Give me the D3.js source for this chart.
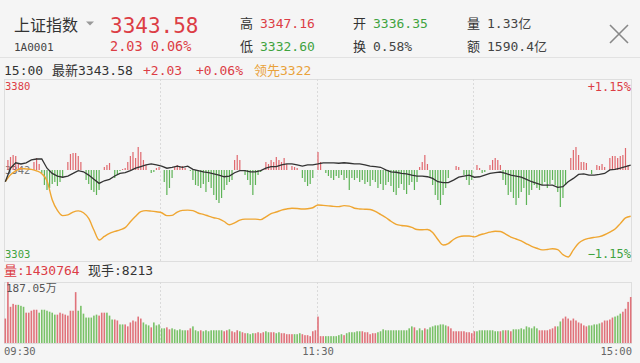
<!DOCTYPE html>
<html>
<head>
<meta charset="utf-8">
<script src="https://cdn.jsdelivr.net/npm/d3@7"></script>
<style>
  body { margin: 0; background: #f5f5f5; }
  svg { display: block; font-family: "DejaVu Sans Mono", "Noto Sans CJK SC", monospace; }
</style>
</head>
<body>
<svg id="chart" width="640" height="363"></svg>
<script>
"use strict";

// ---- quote header ----
var stockName = "上证指数";
var stockCode = "1A0001";
var lastPrice = 3343.58;
var prevClose = 3341.55;
var leadLast = 3322;
var quoteLabels = ["高", "低", "开", "换", "量", "额"];
var quoteValues = ["3347.16", "3332.60", "3336.35", "0.58%", "1.33亿", "1590.4亿"];
var quoteColors = ["up", "down", "down", "flat", "flat", "flat"];
var lastVol = 1430764, lastHand = 8213;

var timeLabels = ["09:30", "11:30", "15:00"];
var timeIdx = [0, 120, 240];
var gridIdx = [60, 120, 180];

// index price, one value every 2 minutes (09:30 .. 15:00)
var price2min = [
  3336.6,3342.3,3344.6,3344.1,3344.6,3345.8,3346.2,3346.2,3342.3,3340.1,
  3339.0,3338.5,3339.0,3340.1,3341.3,3340.8,3339.4,3337.6,3335.9,3337.0,
  3337.6,3339.0,3340.1,3340.4,3341.3,3342.3,3343.0,3343.7,3344.1,3343.7,
  3343.2,3342.3,3342.7,3343.2,3342.7,3343.2,3341.8,3341.3,3340.8,3340.4,
  3339.9,3339.4,3338.7,3339.0,3340.4,3341.3,3341.3,3340.8,3340.8,3341.3,
  3342.3,3343.0,3343.0,3343.7,3344.1,3344.1,3343.7,3343.2,3343.7,3343.7,
  3344.1,3344.6,3344.6,3344.6,3344.4,3344.6,3344.4,3344.1,3344.1,3343.7,
  3343.2,3343.0,3342.7,3341.6,3340.8,3340.6,3340.1,3339.9,3339.4,3339.0,
  3339.0,3338.7,3338.0,3336.6,3336.2,3336.2,3337.3,3338.5,3339.0,3339.4,
  3338.5,3338.7,3339.4,3340.1,3340.4,3340.7,3340.1,3339.4,3339.0,3338.5,
  3337.6,3336.6,3335.9,3335.2,3335.2,3335.2,3334.2,3334.5,3336.6,3338.0,
  3339.7,3339.9,3339.4,3339.4,3339.7,3340.1,3341.6,3341.8,3342.3,3343.0,
  3343.58
];

// 领先 (unweighted) line, one value every 2 minutes
var lead2min = [
  3336.6,3339.5,3341.2,3342.2,3342.0,3341.8,3341.2,3340.0,3337.0,3329.0,
  3324.5,3322.3,3322.6,3323.8,3324.3,3323.5,3321.1,3316.2,3312.0,3313.5,
  3314.8,3315.6,3316.3,3317.2,3319.7,3322.0,3324.0,3324.4,3324.2,3323.9,
  3323.5,3322.3,3322.4,3323.8,3324.5,3324.6,3324.4,3323.4,3322.8,3322.1,
  3321.4,3320.9,3319.8,3318.4,3319.2,3320.4,3320.8,3320.8,3320.8,3320.6,
  3321.8,3323.1,3323.8,3324.6,3325.1,3325.4,3325.3,3325.1,3325.2,3325.6,
  3326.8,3326.6,3326.4,3326.2,3326.1,3326.5,3326.3,3325.4,3325.1,3325.0,
  3324.9,3324.1,3322.8,3321.5,3319.9,3318.6,3318.1,3317.9,3317.3,3316.4,
  3316.3,3316.4,3315.2,3312.2,3309.9,3310.5,3312.2,3313.3,3313.7,3313.7,
  3313.3,3314.1,3314.7,3315.3,3315.7,3315.6,3314.5,3313.2,3312.4,3311.6,
  3310.4,3309.3,3308.5,3307.8,3308.0,3308.3,3307.9,3305.8,3304.8,3307.8,
  3310.6,3312.0,3312.7,3313.1,3313.4,3314.2,3315.3,3316.6,3318.9,3321.3,
  3322.0
];

// buy/sell strength bars, one per minute
var strength = [
  0,10,13,15,14,6,3,0,0,0,
  0,8,12,6,-3,-15,-20,-18,-14,-12,
  -16,-12,-8,0,8,16,17,17,14,8,
  0,-10,-14,-20,-22,-25,-20,0,3,5,
  7,0,-8,-5,-1,1,2,8,14,18,
  12,23,18,10,5,0,-3,-2,2,3,
  0,-12,-25,-18,-8,3,5,3,4,2,
  0,-1,-10,-15,-16,-18,-14,-22,-12,-18,
  -25,-30,-33,-28,-20,-15,-12,-10,10,15,
  10,0,-5,-10,-15,-25,-15,-5,-2,0,
  8,6,10,8,13,10,8,12,6,0,
  4,3,2,0,-8,-12,-16,-14,-8,0,
  18,8,0,-3,-6,-8,-10,-6,-8,-5,
  -10,-8,-20,-8,-10,-8,-12,-10,-14,-12,
  -16,-10,-12,-18,-14,-20,-15,-12,-16,-22,
  -25,-18,-14,-20,-24,-15,-12,-20,-12,3,
  8,15,6,-8,-15,-25,-30,-35,-25,-18,
  -8,0,0,4,3,0,-5,-10,-15,-10,
  0,5,2,-3,-2,0,5,10,12,10,
  5,-10,-15,-25,-22,-28,-35,-28,-22,-18,
  -35,-25,-20,-15,-18,-20,-15,-12,-18,-14,
  -10,-15,-22,-37,-28,-15,0,12,20,23,
  15,8,8,7,0,-4,0,5,4,6,
  3,0,12,14,14,12,14,15,22,5,
  0
];

// volume per minute, in 万
var volume = [
  75,187.05,111,120,117,117,114,111,93,93,
  99,102,102,93,102,102,99,96,93,87,
  87,93,90,87,84,99,99,156,99,114,
  90,78,78,78,84,87,84,93,93,93,
  84,72,72,69,57,57,57,51,63,69,
  66,81,75,63,57,54,48,63,54,57,
  45,45,48,42,45,42,39,42,39,39,
  39,45,51,39,36,39,36,39,36,39,
  39,39,39,
  39,36,39,42,36,33,39,36,33,30,
  30,27,30,30,33,30,33,36,33,33,
  33,30,33,30,30,27,27,27,27,27,
  30,27,24,24,21,36,39,
  81,
  21,21,21,21,21,21,21,24,27,24,
  30,33,33,33,36,36,36,33,33,27,
  30,30,33,36,42,39,39,39,39,39,
  39,39,39,39,45,51,48,39,45,39,
  45,42,48,51,54,
  54,57,57,54,51,45,36,36,36,36,
  36,33,33,30,36,36,39,39,39,39,
  39,39,36,36,36,39,39,39,36,42,
  42,42,45,42,51,48,45,51,45,39,
  39,39,39,42,45,51,51,66,75,81,
  75,69,75,69,63,60,54,51,54,54,
  57,57,60,63,69,69,72,78,81,84,
  90,96,105,126,141
];
var volMax = 187.05;

// r = up minute, g = down minute
var volColor =
  "rrrrr" + "ggg" + "rrrrr" + "ggggggg" + "rrrrrrrr" + "gggggggg" + "rrr" + "ggg" + "rr" + "gg" +
  "rrrrrrr" + "ggg" + "r" + "ggggg" + "rr" + "gggggg" + "rr" + "ggg" + "r" + "ggggggg" +
  "g" + "rr" + "g" + "rrr" + "g" + "rr" + "ggg" + "rrrr" + "gg" + "rr" + "gg" + "rrrrr" + "ggg" +
  "rrrrrr" + "r" + "rr" + "ggggggg" + "r" + "gggggg" + "rrrrrr" + "gggggggggggggg" + "r" + "ggg" + "r" + "gggg" +
  "gggg" + "rr" + "rrrrrrrrr" + "ggggggggg" + "rgrgr" + "gggggggggg" + "rrrrrrr" + "gg" +
  "rrrrrrrrrr" + "ggggg" + "rrrrr" + "ggg" + "rrrr";

var RED = "#dc3d45", GREEN = "#3fa33f", ORANGE = "#e9a23b";
var textColor = { up: RED, down: GREEN, flat: "#444" };

var W = 640, H = 363;
var plotL = 4, plotR = 632;
var priceT = 79, priceB = 261, volT = 282, volB = 343;

var svg = d3.select("#chart");
svg.append("rect").attr("width", W).attr("height", H).attr("fill", "#f5f5f5");

// ---- header ----
svg.append("text").attr("x", 14).attr("y", 31)
  .attr("font-family", "Noto Sans CJK SC").attr("font-size", 16).attr("fill", "#333")
  .text(stockName);
svg.append("path").attr("d", "M86,21.5L94,21.5L90,25.5Z").attr("fill", "#999");
svg.append("text").attr("x", 14).attr("y", 51).attr("font-size", 11).attr("fill", "#444")
  .text(stockCode);

var chg = lastPrice - prevClose;
svg.append("text").attr("x", 110).attr("y", 33).attr("font-size", 21).attr("fill", RED)
  .text(lastPrice.toFixed(2));
svg.append("text").attr("x", 110).attr("y", 51).attr("font-size", 13.5).attr("fill", RED)
  .text(chg.toFixed(2) + " " + (chg / prevClose * 100).toFixed(2) + "%");

var qx = [240, 240, 353, 353, 467, 467];
var qy = [28, 51, 28, 51, 28, 51];
quoteLabels.forEach(function(l, i) {
  svg.append("text").attr("x", qx[i]).attr("y", qy[i])
    .attr("font-family", "Noto Sans CJK SC").attr("font-size", 13).attr("fill", "#333")
    .text(l);
  svg.append("text").attr("x", qx[i] + 20).attr("y", qy[i])
    .attr("font-size", 13).attr("fill", textColor[quoteColors[i]])
    .text(quoteValues[i]);
});

// close button
svg.append("path").attr("d", "M610,25L628,43M628,25L610,43")
  .attr("stroke", "#888").attr("stroke-width", 1.6).attr("fill", "none");

svg.append("line").attr("x1", 0).attr("x2", W).attr("y1", 57.5).attr("y2", 57.5)
  .attr("stroke", "#e2e2e2");

// info row
var info = svg.append("text").attr("y", 75).attr("font-size", 13);
info.append("tspan").attr("x", 4).attr("fill", "#333").text(timeLabels[2]);
info.append("tspan").attr("x", 52).attr("fill", "#333").text("最新" + lastPrice.toFixed(2));
info.append("tspan").attr("x", 143).attr("fill", RED).text("+" + chg.toFixed(2));
info.append("tspan").attr("x", 196).attr("fill", RED).text("+" + (chg / prevClose * 100).toFixed(2) + "%");
info.append("tspan").attr("x", 254).attr("fill", ORANGE).text("领先" + leadLast);

// ---- scales ----
var minutes = d3.range(241);
var xb = d3.scaleBand().domain(minutes).range([plotL, plotR]);
var cx = function(i) { return xb(i) + xb.bandwidth() / 2; };
var pct = 0.0115;
var yPrice = d3.scaleLinear().domain([prevClose * (1 - pct), prevClose * (1 + pct)]).range([priceB, priceT]);
var yStr = d3.scaleLinear().domain([-91, 91]).range([priceB, priceT]);
var yVol = d3.scaleLinear().domain([0, volMax]).range([volB, volT]);

// frames & grid
[[priceT, priceB], [volT, volB]].forEach(function(p) {
  svg.append("rect").attr("x", plotL + 0.5).attr("y", p[0] + 0.5)
    .attr("width", plotR - plotL - 1).attr("height", p[1] - p[0])
    .attr("fill", "none").attr("stroke", "#dedede");
  svg.selectAll(null).data(gridIdx).enter().append("line")
    .attr("x1", function(d) { return Math.round(xb(d)) + 0.5; })
    .attr("x2", function(d) { return Math.round(xb(d)) + 0.5; })
    .attr("y1", p[0]).attr("y2", p[1])
    .attr("stroke", "#dadada").attr("stroke-dasharray", "2,2");
});

// price side labels
var fmt0 = d3.format(".0f");
var dom = yPrice.domain();
svg.append("text").attr("x", 5).attr("y", 90).attr("font-size", 10.5).attr("fill", RED).text(fmt0(dom[1]));
svg.append("text").attr("x", 631).attr("y", 91).attr("text-anchor", "end").attr("font-size", 12).attr("fill", RED)
  .text("+" + (pct * 100).toFixed(2) + "%");
svg.append("text").attr("x", 5).attr("y", 174).attr("font-size", 10.5).attr("fill", "#777").text(fmt0(prevClose));
svg.append("text").attr("x", 5).attr("y", 258).attr("font-size", 10.5).attr("fill", GREEN).text(fmt0(dom[0]));
svg.append("text").attr("x", 631).attr("y", 258).attr("text-anchor", "end").attr("font-size", 12).attr("fill", GREEN)
  .text("\u2212" + (pct * 100).toFixed(2) + "%");

// strength bars
svg.append("g").selectAll("rect")
  .data(strength.map(function(v, i) { return { i: i, v: v }; }).filter(function(d) { return d.v !== 0; }))
  .enter().append("rect")
  .attr("x", function(d) { return cx(d.i) - 0.6; })
  .attr("width", 1.2)
  .attr("y", function(d) { return Math.min(yStr(d.v), yStr(0)); })
  .attr("height", function(d) { return Math.abs(yStr(d.v) - yStr(0)); })
  .attr("fill", function(d) { return d.v > 0 ? "#e0686e" : "#5db356"; });

// lines
var line = d3.line()
  .x(function(d) { return cx(d.m); })
  .y(function(d) { return yPrice(d.v); });

svg.append("path")
  .datum(lead2min.map(function(v, k) { return { m: k * 2, v: v }; }))
  .attr("d", line.curve(d3.curveMonotoneX))
  .attr("fill", "none").attr("stroke", "#efa632").attr("stroke-width", 1.4);

svg.append("path")
  .datum(price2min.map(function(v, k) { return { m: k * 2, v: v }; }))
  .attr("d", line.curve(d3.curveLinear))
  .attr("fill", "none").attr("stroke", "#333").attr("stroke-width", 1.3);

// ---- volume ----
var vh = svg.append("text").attr("y", 275).attr("font-size", 13);
vh.append("tspan").attr("x", 4).attr("fill", RED).text("量:" + lastVol);
vh.append("tspan").attr("x", 88).attr("fill", "#333").text("现手:" + lastHand);

svg.append("g").selectAll("rect")
  .data(volume)
  .enter().append("rect")
  .attr("x", function(d, i) { return cx(i) - 0.8; })
  .attr("width", 1.6)
  .attr("y", function(d) { return yVol(d); })
  .attr("height", function(d) { return yVol(0) - yVol(d); })
  .attr("fill", function(d, i) { return volColor[i] === "r" ? "#e0727a" : "#79c167"; });

svg.append("text").attr("x", 6).attr("y", 292).attr("font-size", 11).attr("fill", "#555")
  .text(volMax.toFixed(2) + "万");

// time axis
svg.selectAll(null).data(timeLabels).enter().append("text")
  .attr("x", function(d, i) { return i === 0 ? plotL : (i === 2 ? plotR : cx(timeIdx[i])); })
  .attr("y", 355)
  .attr("text-anchor", function(d, i) { return ["start", "middle", "end"][i]; })
  .attr("font-size", 10.5).attr("fill", "#666")
  .text(function(d) { return d; });
</script>
</body>
</html>
